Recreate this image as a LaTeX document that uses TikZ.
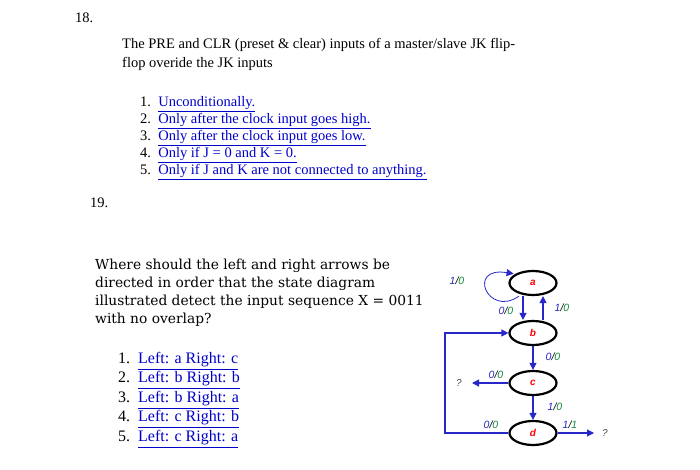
\documentclass[tikz,border=0pt]{standalone}
\usepackage{fontspec}
\setmainfont{Liberation Serif}
\newfontfamily\schfont{DejaVu Serif}
\newfontfamily\arl{Liberation Sans}
\usetikzlibrary{arrows.meta,shapes.geometric}
\definecolor{lnk}{RGB}{0,0,204}
\definecolor{arr}{RGB}{40,40,200}
\definecolor{gr}{RGB}{20,140,60}
\newcommand{\lk}[1]{\textcolor{lnk}{\underline{#1}}}
\newcommand{\io}[2]{{\arl\itshape\textcolor{arr}{#1}/\textcolor{gr}{#2}}}
\begin{document}
\begin{tikzpicture}[x=1pt,y=-1pt,
  txt/.style={anchor=west,inner sep=0pt,font=\fontsize{14.5}{19}\selectfont},
  txt2/.style={anchor=west,inner sep=0pt,font=\schfont\fontsize{13.8}{18}\selectfont,align=left},
  txt3/.style={anchor=west,inner sep=0pt,font=\fontsize{16}{19}\selectfont},
  st/.style={draw,line width=2.2pt,ellipse,minimum width=47pt,minimum height=24pt,inner sep=0pt,font=\arl\bfseries\itshape,text=red},
  ar/.style={draw=arr,line width=1.1pt,-{Triangle[length=7pt,width=7pt]}},
  lb/.style={inner sep=1pt,font=\fontsize{10.5}{12}\selectfont}]
\useasboundingbox (0,0) rectangle (700,470);
\fill[white] (0,0) rectangle (700,470);
\node[txt] (n18) at (75,18) {18.};
\node[txt,anchor=north west,align=left] (p18) at (122,38) {The PRE and CLR (preset \& clear) inputs of a master/slave JK flip-\\flop overide the JK inputs};
\node[txt] (a1) at (140,104) {1.\ \ \lk{Unconditionally.}};
\node[txt] (a2) at (140,121) {2.\ \ \lk{Only after the clock input goes high.}};
\node[txt] (a3) at (140,138) {3.\ \ \lk{Only after the clock input goes low.}};
\node[txt] (a4) at (140,155) {4.\ \ \lk{Only if J = 0 and K = 0.}};
\node[txt] (a5) at (140,172) {5.\ \ \lk{Only if J and K are not connected to anything.}};
\node[txt] (n19) at (90,203) {19.};
\node[txt2,anchor=north west] (p19) at (95,259) {Where should the left and right arrows be\\directed in order that the state diagram\\illustrated detect the input sequence X = 0011\\with no overlap?};
\node[txt3] (b1) at (118,361) {1.\ \ \lk{Left: a Right: c}};
\node[txt3] (b2) at (118,380) {2.\ \ \lk{Left: b Right: b}};
\node[txt3] (b3) at (118,400) {3.\ \ \lk{Left: b Right: a}};
\node[txt3] (b4) at (118,419) {4.\ \ \lk{Left: c Right: b}};
\node[txt3] (b5) at (118,439) {5.\ \ \lk{Left: c Right: a}};
% state diagram
\node[st] (a) at (533,283) {a};
\node[st] (b) at (533,333) {b};
\node[st] (c) at (533,383) {c};
\node[st] (d) at (533,433) {d};
\draw[arr,line width=0.8pt,-{Triangle[length=7pt,width=7pt]}] ([xshift=-14pt]a.south) .. controls (488,318) and (466,266) .. ([xshift=-2pt]a.north west);
\node[lb] (l0) at (457,281) {\io{1}{0}};
\draw[ar] ([xshift=-10pt]a.south) -- ([xshift=-10pt]b.north);
\node[lb] (l1) at (506,311) {\io{0}{0}};
\draw[ar] ([xshift=10pt]b.north) -- ([xshift=10pt]a.south);
\node[lb] (l2) at (562,308) {\io{1}{0}};
\draw[ar] (b) -- (c);
\node[lb] (l3) at (553,357) {\io{0}{0}};
\draw[ar] (c) -- (d);
\node[lb] (l4) at (555,407) {\io{1}{0}};
\coordinate (cl) at (472,383);
\draw[ar] (c.west) -- (cl);
\node[lb,font=\arl\itshape,text=black!70] (q1) at (459,383) {?};
\node[lb] (l5) at (496,375) {\io{0}{0}};
\coordinate (p1) at (445,433);
\coordinate (p2) at (445,333);
\draw[ar] (d.west) -- (p1) -- (p2) -- (b.west);
\node[lb] (l6) at (491,425) {\io{0}{0}};
\coordinate (dr) at (594,433);
\draw[ar] (d.east) -- (dr);
\node[lb] (l7) at (570,425) {\io{1}{1}};
\node[lb,font=\arl\itshape,text=black!70] (q2) at (605,433) {?};
\end{tikzpicture}
\end{document}
